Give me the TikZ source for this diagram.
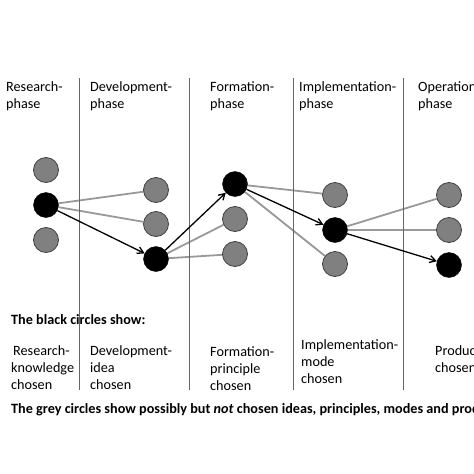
\documentclass[tikz,border=0pt]{standalone}
\usepackage{fontspec}
\setmainfont{Carlito}
\usetikzlibrary{backgrounds,arrows.meta}
\begin{document}
\begin{tikzpicture}[x=1pt,y=-1pt,
  chosen/.style={circle,draw=black,fill=black,minimum size=25pt,inner sep=0pt},
  other/.style={circle,draw=black!75,fill=black!50,minimum size=25pt,inner sep=0pt,line width=0.8pt},
  alt/.style={draw=black!40,line width=1.8pt},
  pick/.style={draw=black,line width=1.3pt,-{Straight Barb[length=6pt,width=7pt]}},
  sep/.style={draw=black!60,line width=0.8pt},
  lbl/.style={anchor=north west,align=left,inner sep=0pt,font=\fontsize{14.2}{17}\selectfont},
  blbl/.style={lbl,font=\fontsize{14.2}{17}\selectfont\bfseries}]
\useasboundingbox (0,0) rectangle (474,474);
\clip (0,0) rectangle (474,474);
% separators
\draw[sep] (79,78) -- (79,390);
\draw[sep] (189,78) -- (189,390);
\draw[sep] (293,78) -- (293,390);
\draw[sep] (403,78) -- (403,390);
% phase labels
\node[lbl] (lr) at (6,81) {Research-\\phase};
\node[lbl] (ld) at (90,81) {Development-\\phase};
\node[lbl] (lf) at (210,81) {Formation-\\phase};
\node[lbl] (li) at (299,81) {Implementation-\\phase};
\node[lbl] (lo) at (418,81) {Operation-\\phase};
% circles
\node[other]  (r1) at (46,170) {};
\node[chosen] (r2) at (46,205) {};
\node[other]  (r3) at (46,240) {};
\node[other]  (d1) at (156,190) {};
\node[other]  (d2) at (156,224) {};
\node[chosen] (d3) at (156,259) {};
\node[chosen] (f1) at (235,184) {};
\node[other]  (f2) at (235,219) {};
\node[other]  (f3) at (235,254) {};
\node[other]  (i1) at (335,195) {};
\node[chosen] (i2) at (335,230) {};
\node[other]  (i3) at (335,264) {};
\node[other]  (o1) at (449,195) {};
\node[other]  (o2) at (449,230) {};
\node[chosen] (o3) at (449,265) {};
% connectors
\begin{scope}[on background layer]
\draw[alt] (r2) -- (d1);
\draw[alt] (r2) -- (d2);
\draw[alt] (d3) -- (f2);
\draw[alt] (d3) -- (f3);
\draw[alt] (f1) -- (i1);
\draw[alt] (f1) -- (i3);
\draw[alt] (i2) -- (o1);
\draw[alt] (i2) -- (o2);
\end{scope}
\draw[pick] (r2) -- (d3);
\draw[pick] (d3) -- (f1);
\draw[pick] (f1) -- (i2);
\draw[pick] (i2) -- (o3);
% bottom texts
\node[blbl] (bt) at (11,314) {The black circles show:};
\node[lbl] (br) at (11,345) {\hspace{2pt}Research-\\knowledge\\chosen};
\node[lbl] (bd) at (90,345) {Development-\\idea\\chosen};
\node[lbl] (bf) at (210,346) {Formation-\\principle\\chosen};
\node[lbl] (bi) at (301,339) {Implementation-\\mode\\chosen};
\node[lbl] (bo) at (435,345) {Product\\chosen};
\node[blbl] (bg) at (11,403) {The grey circles show possibly but \textit{not} chosen ideas, principles, modes and products};
\end{tikzpicture}
\end{document}
